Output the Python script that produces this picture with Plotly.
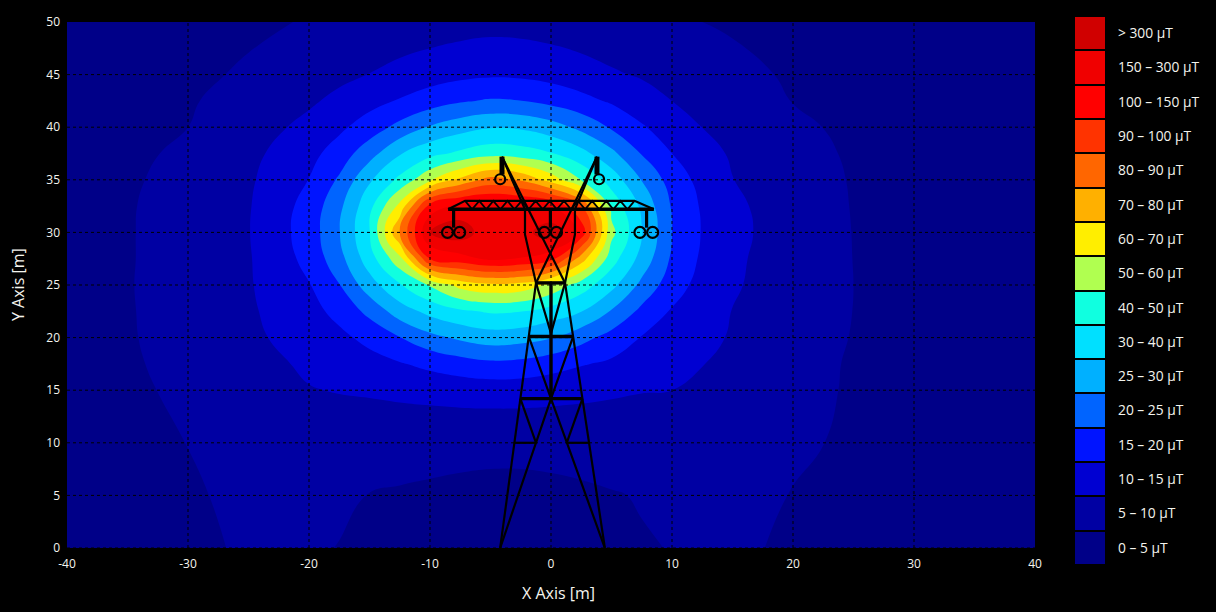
import numpy as np
import plotly.graph_objects as go

# ---------------- data ----------------
x_m = [-40, -35, -30, -25, -20, -17.5, -15, -12.5, -10, -7.5, -5, -2.5, 0,
       2.5, 5, 7.5, 10, 12.5, 15, 20, 25, 30, 35, 40]
y_m = [0, 5, 10, 15, 17.5, 20, 22.5, 25, 27.5, 30, 32.5, 35, 37.5, 40, 42.5, 45, 50]

# magnetic flux density [uT], one row per y_m value, one column per x_m value
field_uT = [
    [2.4, 3.4, 4.4, 5.35, 5.45, 4.9, 4.5, 4.2, 3.95, 3.8, 3.75, 3.8, 3.9, 4.15, 4.45, 4.75, 5.1, 5.4, 5.4, 4.65, 3.75, 2.75, 1.75, 0.75],
    [2.6, 3.6, 4.6, 5.75, 6.1, 5.6, 4.9, 4.6, 4.4, 4.25, 4.2, 4.2, 4.3, 4.5, 4.8, 5.2, 5.75, 6.0, 5.75, 4.9, 3.9, 2.9, 1.9, 0.9],
    [3.0, 4.0, 5.05, 6.5, 7.4, 7.4, 7.1, 6.7, 6.3, 6.0, 5.8, 5.8, 5.95, 6.2, 6.6, 7.0, 7.3, 7.2, 6.6, 5.6, 4.45, 3.25, 2.25, 1.25],
    [3.35, 4.35, 5.7, 7.85, 9.8, 10.2, 10.5, 11.0, 11.5, 12.0, 12.25, 12.2, 11.8, 11.3, 10.7, 10.2, 10.0, 9.3, 8.3, 6.2, 4.6, 3.6, 2.6, 1.6],
    [3.5, 4.5, 6.2, 8.4, 10.7, 12.0, 13.3, 14.6, 16.25, 17.75, 18.85, 18.5, 17.0, 15.35, 14.15, 12.75, 11.4, 10.1, 8.95, 6.75, 4.55, 3.8, 2.8, 1.8],
    [3.65, 4.65, 6.6, 9.0, 12.1, 13.9, 16.3, 19.85, 23.5, 25.9, 27.5, 26.9, 25.25, 21.7, 18.1, 14.75, 13.0, 11.2, 9.6, 7.2, 4.8, 3.9, 2.9, 1.9],
    [3.7, 4.7, 6.8, 9.3, 13.4, 16.4, 21.4, 27.5, 33.0, 38.3, 41.2, 40.3, 35.7, 30.4, 24.6, 18.75, 14.55, 12.2, 9.9, 7.4, 4.95, 4.0, 3.0, 2.0],
    [3.75, 4.75, 6.95, 9.55, 14.75, 19.8, 27.8, 39.0, 51.0, 63.5, 68.0, 66.5, 57.7, 45.0, 33.0, 23.7, 17.2, 13.3, 10.5, 7.6, 5.0, 4.0, 3.0, 2.0],
    [3.7, 4.7, 6.9, 9.6, 16.4, 23.2, 35.3, 56.9, 101.5, 132, 180, 148, 116.5, 75.2, 44.3, 28.2, 19.2, 14.2, 10.8, 7.6, 4.95, 4.0, 3.0, 2.0],
    [3.7, 4.7, 6.9, 9.8, 17.2, 24.8, 39.6, 80, 300, 470, 200, 240, 480, 134, 52.8, 30.7, 20.1, 14.7, 11.2, 7.7, 4.9, 4.0, 3.4, 1.9],
    [3.65, 4.65, 6.85, 9.65, 16.7, 23.8, 36.9, 62.9, 119.5, 200, 210, 200, 150, 90, 46.8, 29.0, 19.5, 14.4, 10.9, 7.6, 4.8, 3.9, 2.9, 1.9],
    [3.45, 4.45, 6.35, 9.3, 15.1, 20.7, 29.3, 42.4, 58.5, 72.5, 84, 78.9, 65.9, 49.5, 35.7, 24.8, 17.8, 13.4, 10.1, 7.1, 4.7, 3.7, 2.7, 1.75],
    [3.2, 4.2, 5.7, 8.7, 13.4, 17.3, 23.0, 29.6, 37.0, 42.0, 46.0, 44.5, 40.5, 33.3, 26.3, 19.7, 15.0, 11.9, 9.4, 6.45, 4.5, 3.5, 2.5, 1.5],
    [3.0, 4.0, 5.0, 7.8, 11.25, 14.0, 17.4, 21.5, 25.5, 28.0, 29.7, 29.3, 27.2, 23.7, 19.4, 15.5, 12.6, 9.95, 8.5, 5.7, 4.25, 3.25, 2.25, 1.25],
    [2.6, 3.6, 4.6, 6.65, 9.35, 11.1, 13.3, 15.4, 17.5, 19.5, 20.5, 20.1, 18.5, 16.5, 14.4, 12.2, 10.0, 8.7, 7.3, 4.9, 3.9, 2.9, 1.9, 1.0],
    [2.25, 3.25, 4.2, 5.5, 7.8, 8.95, 10.1, 11.5, 12.75, 13.75, 14.35, 14.1, 13.25, 12.0, 10.6, 9.5, 8.4, 7.25, 6.1, 4.5, 3.5, 2.5, 1.5, 0.6],
    [1.3, 2.25, 3.25, 4.3, 5.25, 5.75, 6.25, 6.75, 7.25, 7.85, 8.25, 8.1, 7.6, 7.0, 6.4, 5.9, 5.4, 5.0, 4.5, 3.5, 2.5, 1.5, 0.6, 0.25],
]

band_edges_uT = [0, 5, 10, 15, 20, 25, 30, 40, 50, 60, 70, 80, 90, 100, 150, 300, 600]
band_labels = ["0 – 5 µT", "5 – 10 µT", "10 – 15 µT", "15 – 20 µT", "20 – 25 µT",
               "25 – 30 µT", "30 – 40 µT", "40 – 50 µT", "50 – 60 µT", "60 – 70 µT",
               "70 – 80 µT", "80 – 90 µT", "90 – 100 µT", "100 – 150 µT",
               "150 – 300 µT", "> 300 µT"]
x_ticks = [-40, -30, -20, -10, 0, 10, 20, 30, 40]
y_ticks = [0, 5, 10, 15, 20, 25, 30, 35, 40, 45, 50]

# tower drawing [m]
tower_thin_x = [-1.24, -4.2, None, 1.16, 4.45, None, -1.24, 0, 1.16, None,
                -1.84, 0, 1.83, None, -2.53, -1.24, None, 2.60, 1.30, None,
                -4.2, 0, 4.45, None, -3.03, -1.24, None, 1.30, 3.14, None,
                -4.05, -2.15, -2.15, -1.24, None, 3.8, 1.98, 1.98, 1.16, None,
                -4.05, 1.16, None, 3.8, -1.24, None, -8.5, -7.1, 6.9, 8.5]
tower_thin_y = [25.2, 0, None, 25.2, 0, None, 25.2, 20.4, 25.2, None,
                20.1, 14.2, 20.1, None, 14.2, 10.0, None, 14.2, 10.0, None,
                0, 14.2, 0, None, 10, 10, None, 10, 10, None,
                37.2, 32.2, 29.8, 25.2, None, 37.2, 32.2, 29.8, 25.2, None,
                37.2, 25.2, None, 37.2, 25.2, None, 32.2, 33.0, 33.0, 32.2]
tower_thick_x = [-1.24, 1.16, None, -1.84, 1.83, None, -2.53, 2.60, None, 0, 0, None, -8.5, 8.5]
tower_thick_y = [25.2, 25.2, None, 20.1, 20.1, None, 14.2, 14.2, None, 25.2, 14.2, None, 32.2, 32.2]
truss_x = [-7.1, -6.52, -5.93, -5.35, -4.77, -4.18, -3.6, -3.02, -2.43, -1.85, -1.27, -0.68,
           -0.1, 0.48, 1.07, 1.65, 2.23, 2.82, 3.4, 3.98, 4.57, 5.15, 5.73, 6.32, 6.9]
truss_y = [33.0, 32.2] * 12 + [33.0]
insulator_x = [-8.05, -8.05, None, -0.05, -0.05, None, 7.9, 7.9]
insulator_y = [32.2, 30.45, None, 32.2, 30.45, None, 32.2, 30.45]
post_x = [-4.05, -4.05, None, 3.8, 3.8]
post_y = [37.2, 35.5, None, 37.2, 35.5]
conductor_x = [-8.55, -7.55, -0.55, 0.45, 7.35, 8.4]
conductor_y = [30.0, 30.0, 30.0, 30.0, 30.0, 30.0]
earthwire_x = [-4.2, 3.97]
earthwire_y = [35.05, 35.05]

# ---------------- styling ----------------
band_colors = ["#000088", "#0000a3", "#0000d2", "#0014ff", "#0064ff", "#00b0ff",
               "#00e0ff", "#10ffe0", "#b0ff50", "#ffee00", "#ffb000", "#ff6600",
               "#ff3300", "#ff0000", "#f00000", "#d00000"]
W, H = 1216, 612
FONT = "Open Sans"
TXT = "#f4f4ee"

nb = len(band_colors)
band_pos = np.interp(np.array(field_uT, dtype=float), band_edges_uT, np.arange(len(band_edges_uT)))
contour_scale = [[k / (nb - 1), c] for k, c in enumerate(band_colors)]

fig = go.Figure()
fig.add_trace(go.Contour(
    x=x_m, y=y_m, z=band_pos,
    contours=dict(start=1, end=nb - 1, size=1, coloring="fill", showlines=False),
    line=dict(width=0, smoothing=1.3),
    colorscale=contour_scale, showscale=False, hoverinfo="skip"))

line_k = dict(mode="lines", hoverinfo="skip", showlegend=False)
fig.add_trace(go.Scatter(x=tower_thin_x, y=tower_thin_y, line=dict(color="black", width=2.2), **line_k))
fig.add_trace(go.Scatter(x=truss_x, y=truss_y, line=dict(color="black", width=1.8), **line_k))
fig.add_trace(go.Scatter(x=tower_thick_x, y=tower_thick_y, line=dict(color="black", width=3.4), **line_k))
fig.add_trace(go.Scatter(x=insulator_x, y=insulator_y, line=dict(color="black", width=3.2), **line_k))
fig.add_trace(go.Scatter(x=post_x, y=post_y, line=dict(color="black", width=5), **line_k))
fig.add_trace(go.Scatter(x=conductor_x, y=conductor_y, mode="markers", hoverinfo="skip",
                         marker=dict(symbol="circle-open", size=11, color="black", line=dict(width=2.2))))
fig.add_trace(go.Scatter(x=earthwire_x, y=earthwire_y, mode="markers", hoverinfo="skip",
                         marker=dict(symbol="circle-open", size=10, color="black", line=dict(width=2.2))))

# legend boxes
legend_scale = []
for k, c in enumerate(band_colors):
    legend_scale += [[k / nb, c], [(k + 1) / nb, c]]
fig.add_trace(go.Heatmap(
    z=[[k] for k in range(nb)], x=[0], y=list(range(nb)),
    colorscale=legend_scale, zmin=-0.5, zmax=nb - 0.5, showscale=False,
    ygap=2, xaxis="x2", yaxis="y2", hoverinfo="skip"))

# dashed grid above the field
shapes = []
for gx in x_ticks[1:-1]:
    shapes.append(dict(type="line", xref="x", yref="y", x0=gx, x1=gx, y0=0, y1=50,
                       line=dict(color="black", width=1, dash="3px,3px"), layer="above"))
for gy in y_ticks[:-1]:
    shapes.append(dict(type="line", xref="x", yref="y", x0=-40, x1=40, y0=gy, y1=gy,
                       line=dict(color="black", width=1, dash="3px,3px"), layer="above"))

tick_font = dict(family=FONT, size=12, color=TXT)
fig.update_layout(
    width=W, height=H, margin=dict(l=0, r=0, t=0, b=0),
    paper_bgcolor="black", plot_bgcolor="black", showlegend=False,
    font=dict(family=FONT, color=TXT),
    shapes=shapes,
    xaxis=dict(domain=[67 / W, 1035 / W], range=[-40, 40], tickvals=x_ticks,
               ticktext=[str(v) for v in x_ticks],
               showgrid=False, zeroline=False, showline=False, ticks="", tickfont=tick_font,
               ticklabelstandoff=7, automargin=False, fixedrange=True),
    yaxis=dict(domain=[(H - 548) / H, (H - 22) / H], range=[0, 50], tickvals=y_ticks,
               showgrid=False, zeroline=False, showline=False, ticks="", tickfont=tick_font,
               ticklabelstandoff=6, automargin=False, fixedrange=True),
    xaxis2=dict(domain=[1075 / W, 1105 / W], anchor="y2", range=[-0.5, 0.5], visible=False,
                fixedrange=True),
    yaxis2=dict(domain=[(H - 565) / H, (H - 16) / H], anchor="x2", side="right",
                range=[-0.5, nb - 0.5], tickvals=list(range(nb)), ticktext=band_labels,
                showgrid=False, zeroline=False, showline=False, ticks="",
                ticklabelstandoff=12, tickfont=dict(family=FONT, size=13.8, color=TXT),
                automargin=False, fixedrange=True),
    annotations=[
        dict(text="X Axis [m]", xref="paper", yref="paper", x=558 / W, y=1 - 593 / H,
             xanchor="center", yanchor="middle",
             showarrow=False, font=dict(family=FONT, size=16, color=TXT)),
        dict(text="Y Axis [m]", xref="paper", yref="paper", x=18 / W, y=1 - 285 / H,
             xanchor="center", yanchor="middle",
             textangle=-90, showarrow=False, font=dict(family=FONT, size=16, color=TXT)),
    ],
)

fig.write_html(
    "out.html", config=dict(displayModeBar=False),
    post_script="document.body.style.margin='0';document.body.style.padding='0';"
                "document.body.style.background='black';document.body.style.overflow='hidden';")
